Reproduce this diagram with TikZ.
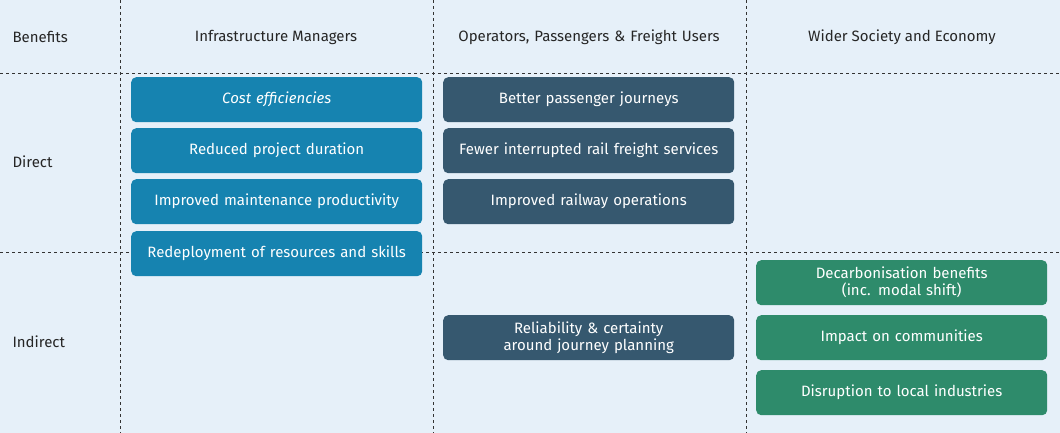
\documentclass[tikz,border=0pt]{standalone}
\usepackage{fontspec}
\setmainfont{Fira Sans}
\definecolor{bg}{HTML}{E6F0F9}
\definecolor{cblue}{HTML}{1683B0}
\definecolor{cdark}{HTML}{36586F}
\definecolor{cgreen}{HTML}{2E8B6B}
\begin{document}
\begin{tikzpicture}[x=1pt,y=-1pt,
  box/.style={rounded corners=5pt,minimum width=291pt,minimum height=45pt,text width=270pt,align=center,text=white,font=\fontsize{15}{17}\selectfont,anchor=north west,inner sep=0pt},
  bb/.style={box,fill=cblue},db/.style={box,fill=cdark},gb/.style={box,fill=cgreen},
  hd/.style={font=\fontsize{15}{17}\selectfont,align=center,text=black!85},
  grid/.style={dashed,black!80,line width=0.8pt}]
\fill[bg] (0,0) rectangle (1060,433);
\useasboundingbox (0,0) rectangle (1060,433);
\coordinate (v1t) at (120,0); \coordinate (v1b) at (120,433);
\coordinate (v2t) at (433,0); \coordinate (v2b) at (433,433);
\coordinate (v3t) at (746,0); \coordinate (v3b) at (746,433);
\coordinate (h1l) at (0,73); \coordinate (h1r) at (1060,73);
\coordinate (h2l) at (0,252); \coordinate (h2r) at (1060,252);
\draw[grid] (v1t)--(v1b); \draw[grid] (v2t)--(v2b); \draw[grid] (v3t)--(v3b);
\draw[grid] (h1l)--(h1r); \draw[grid] (h2l)--(h2r);
\node[hd,anchor=west] (hb) at (9,37) {Benefits};
\node[hd] (him) at (276,37) {Infrastructure Managers};
\node[hd,text width=290pt] (hop) at (589,37) {Operators, Passengers \& Freight Users};
\node[hd] (hws) at (902,37) {Wider Society and Economy};
\node[hd,anchor=west] (rd) at (9,162) {Direct};
\node[hd,anchor=west] (ri) at (9,342) {Indirect};
\node[bb] (b1) at (131,77) {\itshape Cost efficiencies};
\node[bb] (b2) at (131,128) {Reduced project duration};
\node[bb] (b3) at (131,179) {Improved maintenance productivity};
\node[bb] (b4) at (131,231) {Redeployment of resources and skills};
\node[db] (d1) at (443,77) {Better passenger journeys};
\node[db] (d2) at (443,128) {Fewer interrupted rail freight services};
\node[db] (d3) at (443,179) {Improved railway operations};
\node[db] (d4) at (443,315) {Reliability \& certainty around journey planning};
\node[gb] (g1) at (756,260) {Decarbonisation benefits\\(inc. modal shift)};
\node[gb] (g2) at (756,315) {Impact on communities};
\node[gb] (g3) at (756,370) {Disruption to local industries};
\end{tikzpicture}
\end{document}
